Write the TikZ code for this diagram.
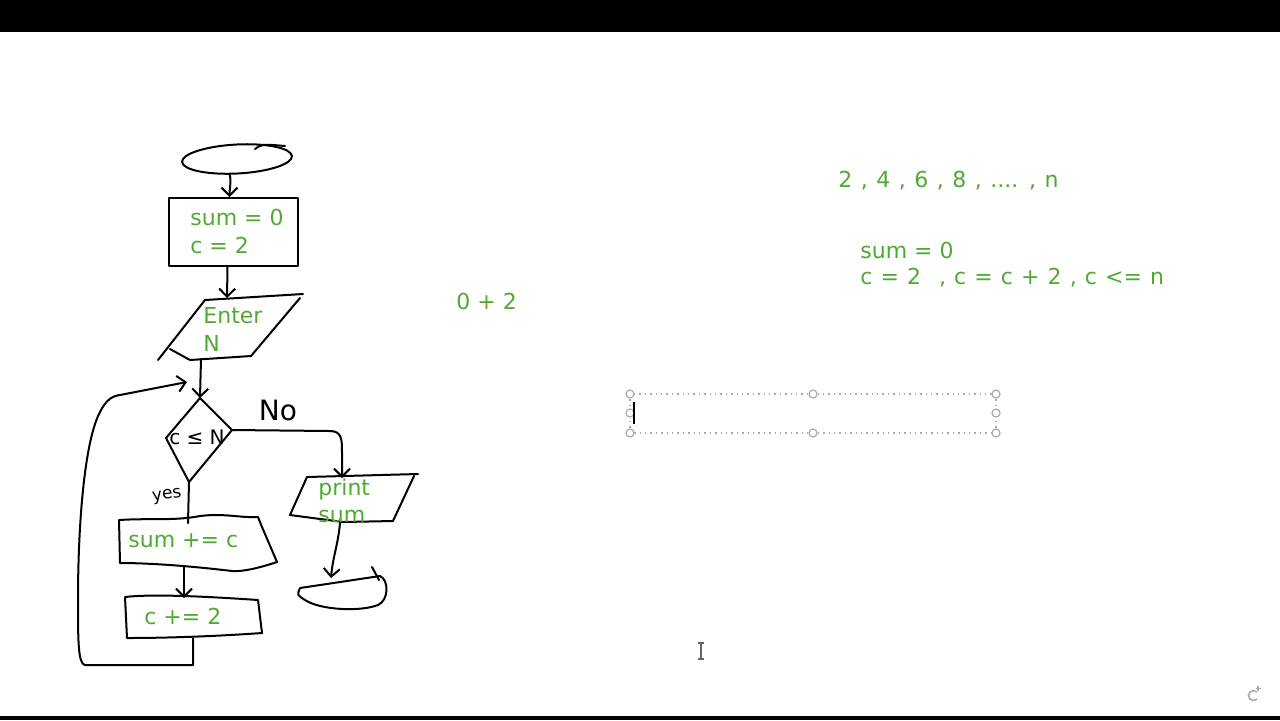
\documentclass[tikz,border=0pt]{standalone}
\usepackage{fontspec}
\setmainfont{DejaVu Sans}
\usetikzlibrary{shapes.geometric,arrows.meta}
\definecolor{grn}{RGB}{80,170,50}
\definecolor{hgray}{RGB}{170,170,170}
\begin{document}
\begin{tikzpicture}[x=0.5pt,y=-0.5pt,
 ink/.style={line width=1pt, draw=black, line join=round, line cap=round},
 arr/.style={ink,-{Straight Barb[length=4pt,width=8pt]}},
 gtext/.style={text=grn, font=\fontsize{11}{13}\selectfont, inner sep=0pt, anchor=west},
 htext/.style={text=black, inner sep=0pt},
 handle/.style={draw=hgray, line width=0.6pt, fill=white, circle, inner sep=0pt, minimum size=4pt}]
\useasboundingbox (0,0) rectangle (1280,720);
\fill[white] (0,0) rectangle (1280,720);
\fill[black] (0,0) rectangle (1280,32);
\fill[black] (0,716) rectangle (1280,720);

% start terminal
\node[ink, ellipse, minimum width=55pt, minimum height=14.5pt, rotate=3, inner sep=0pt] (start) at (237,159) {};
\draw[ink] (255,149) .. controls (262,144) .. (285,146);

% init box
\node[ink, rectangle, minimum width=64.5pt, minimum height=34pt, inner sep=0pt] (box1) at (233.5,232) {};
\node[gtext] (tsum0) at (190,217) {sum = 0};
\node[gtext] (tc2) at (190,245) {c = 2};
\draw[arr] ([xshift=-4pt]start.south) to[out=-80,in=90] ([xshift=-2pt]box1.north);

% input Enter N
\coordinate (enterTop) at (227,298);
\coordinate (enterBot) at (201,359);
\draw[ink] (205,300) -- (303,294);
\draw[ink] (300,298) -- (251,356) -- (190,360) -- (170,349);
\draw[ink] (205,300) -- (158,360);
\node[gtext] (tenter) at (203,316) {Enter};
\node[gtext] (tn) at (203,343) {N};
\draw[arr] ([xshift=-3pt]box1.south) -- (enterTop);

% decision
\coordinate (dTop) at (200,398);
\coordinate (dRight) at (232,430);
\coordinate (dBot) at (189,482);
\coordinate (dLeft) at (166,438);
\draw[ink] (dTop) -- (dRight) -- (dBot) -- (dLeft) -- cycle;
\node[htext, font=\fontsize{10}{12}\selectfont] (cond) at (197,437) {c ≤ N};
\draw[arr] (enterBot) -- (dTop);
\node[htext, font=\fontsize{14}{16}\selectfont] (no) at (278,410) {No};
\node[htext, font=\fontsize{8.5}{10}\selectfont, rotate=8] (yes) at (167,496) {yes};

% No branch: print sum
\coordinate (pTop) at (342,478);
\coordinate (pBot) at (340,523);
\draw[arr] (dRight) -- (330,431) .. controls (342,431) and (342,440) .. (342,452) -- (pTop);
\draw[ink] (418,474) -- (307,477) -- (290,515) -- (343,522) -- (393,521) -- (414,476);
\node[gtext] (tprint) at (318,489) {print};
\node[gtext] (tpsum) at (318,516) {sum};

% end terminal
\coordinate (endTop) at (331,578);
\draw[arr] (pBot) to[out=-95,in=85] (endTop);
\draw[ink] (300,588) -- (380,576) .. controls (389,580) and (389,600) .. (378,605) .. controls (360,612) and (320,610) .. (305,600) .. controls (297,595) .. (300,588);
\draw[ink] (372,567) -- (379,580);

% yes branch: sum += c
\coordinate (sTop) at (188,523);
\coordinate (sBot) at (184,566);
\draw[ink] (dBot) -- (sTop);
\draw[ink] (119,520) .. controls (150,518) and (175,521) .. (200,516) .. controls (225,513) and (240,518) .. (258,517) -- (262,527) -- (277,562) .. controls (265,566) and (245,572) .. (232,571) .. controls (190,566) and (150,563) .. (120,563) -- cycle;
\node[gtext] (tsumc) at (128,541) {sum += c};

% c += 2
\coordinate (cTop) at (184,598);
\coordinate (cBot) at (193,638);
\draw[arr] (sBot) -- (cTop);
\draw[ink] (125,597) .. controls (150,594) and (200,596) .. (258,600) -- (262,633) .. controls (220,636) and (170,638) .. (127,638) -- cycle;
\node[gtext] (tcinc) at (144,616) {c += 2};

% loop back
\coordinate (loopEnd) at (187,382);
\draw[arr] (cBot) -- (193,665) -- (85,665) .. controls (78,664) and (78,640) .. (78,600) .. controls (78,520) and (85,440) .. (100,412) .. controls (106,400) and (112,396) .. (120,395) -- (loopEnd);

% right side notes
\node[gtext] (zero2) at (456,301) {0 + 2};
\node[gtext] (seq) at (838,181) {\spaceskip=4.25pt\relax 2 , 4 , 6 , 8 , .... , n};
\node[gtext] (rsum) at (860,250) {sum = 0};
\node[gtext] (rc) at (860,278) {\spaceskip=4.05pt\relax c = 2\hspace{9pt}, c = c + 2 , c <= n};

% selected empty text box
\draw[hgray, dotted, line width=0.7pt] (630,394) rectangle (996,433);
\foreach \x/\y [count=\i] in {630/394,813/394,996/394,630/413,996/413,630/433,813/433,996/433}
  \node[handle] (h\i) at (\x,\y) {};
\draw[black, line width=1pt] (634,402) -- (634,424);

% mouse I-beam cursor
\draw[gray!80!black, line width=0.7pt] (701,644) -- (701,658) (698,643) -- (704,643) (698,659) -- (704,659);

% corner icon
\draw[hgray, line width=0.8pt] (1257,692) arc[start angle=45, end angle=315, radius=2.5pt];
\draw[hgray, line width=0.6pt] (1258,686) -- (1258,691) (1255.5,688.5) -- (1260.5,688.5);
\end{tikzpicture}
\end{document}
